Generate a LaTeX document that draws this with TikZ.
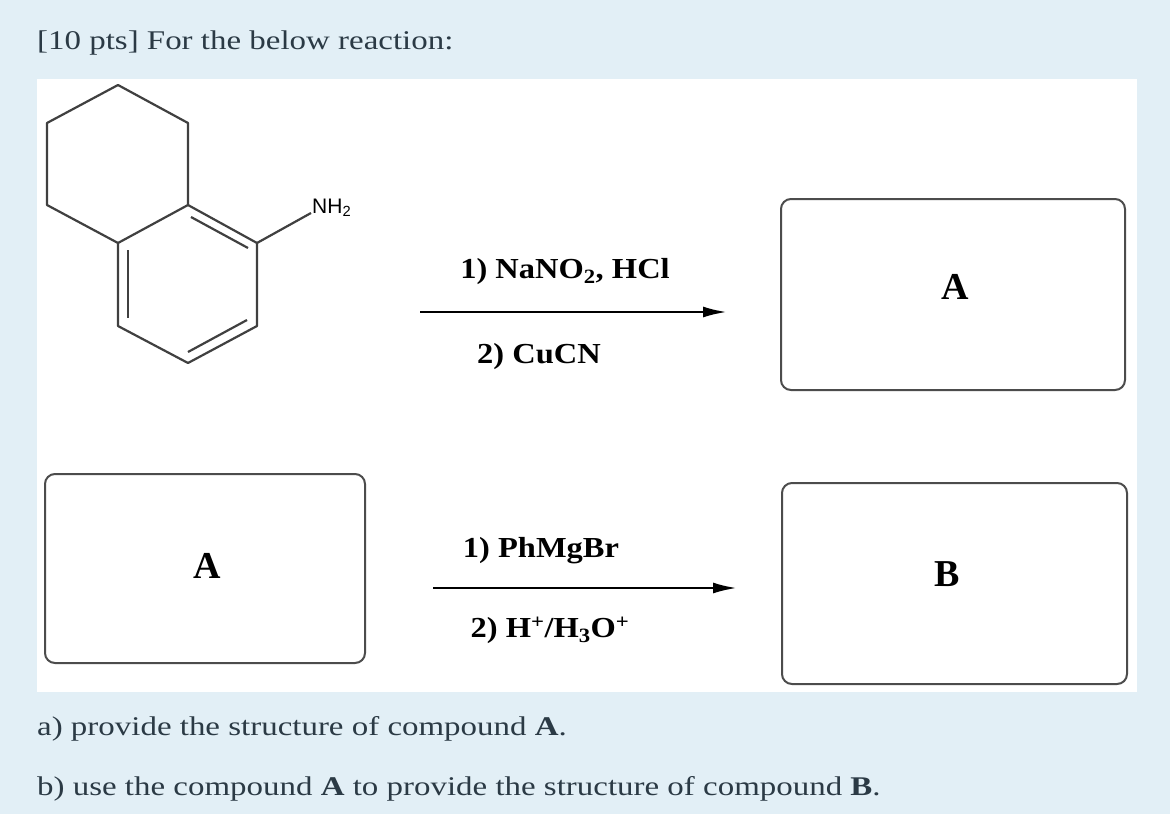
\documentclass[tikz,border=0pt]{standalone}
\usepackage{fontspec}
\setmainfont{Liberation Serif}
\newfontfamily\arialf{Liberation Sans}
\newfontfamily\wideserif[FakeStretch=1.22]{Liberation Serif}
\newfontfamily\reagserif[FakeStretch=1.12]{Liberation Serif}
\usetikzlibrary{arrows.meta}
\definecolor{bgblue}{HTML}{E2EFF6}
\definecolor{txt}{HTML}{2B3A45}
\tikzset{bond/.style={draw=black!75,line width=2.2pt},
 ansbox/.style={draw=black!70,line width=2pt,rounded corners=10pt},
 rxarrow/.style={line width=2.6pt,-{Latex[length=24pt,width=11pt]}},
 reag/.style={font=\reagserif\fontsize{29}{32}\selectfont\bfseries,inner sep=0pt},
 q/.style={font=\wideserif\fontsize{27}{30}\selectfont,text=txt,anchor=west,inner sep=0pt}}
\begin{document}
\begin{tikzpicture}[x=1pt,y=-1pt]
\fill[bgblue] (0,0) rectangle (1170,814);
\fill[white] (37,79) rectangle (1137,692);
\node[q] (hdr) at (37,43) {[10 pts] For the below reaction:};
% molecule
\coordinate (c1) at (118,85); \coordinate (c2) at (188,123);
\coordinate (c3) at (188,205); \coordinate (c4) at (118,243);
\coordinate (c5) at (47,205); \coordinate (c6) at (47,123);
\coordinate (c7) at (257,243); \coordinate (c8) at (257,326);
\coordinate (c9) at (188,363); \coordinate (c10) at (118,326);
\draw[bond,line join=round] (c3)--(c2)--(c1)--(c6)--(c5)--(c4)--(c3)--(c7)--(c8)--(c9)--(c10)--(c4);
\draw[bond] (191,217)--(248,248);
\draw[bond] (128,250)--(128,318);
\draw[bond] (188,352)--(247,320);
\node[font=\arialf\fontsize{21}{23}\selectfont,anchor=west,inner sep=1pt] (nh2) at (311,208) {NH\textsubscript{2}};
\draw[bond] (c7)--(nh2.west|-0,213);
% reaction 1
\coordinate (a1s) at (420,312); \coordinate (a1e) at (727,312);
\draw[rxarrow] (a1s)--(a1e);
\node[reag] (r1a) at (565,272) {1) NaNO\textsubscript{2}, HCl};
\node[reag] (r1b) at (539,357) {2) CuCN};
\node[ansbox,minimum width=344pt,minimum height=191pt] (boxA) at (953,294.5) {};
\node[font=\fontsize{38}{40}\selectfont\bfseries] (lA) at (955,287) {A};
% reaction 2
\node[ansbox,minimum width=320pt,minimum height=189pt] (boxA2) at (205,568.5) {};
\node[font=\fontsize{38}{40}\selectfont\bfseries] (lA2) at (207,566) {A};
\coordinate (a2s) at (433,588); \coordinate (a2e) at (737,588);
\draw[rxarrow] (a2s)--(a2e);
\node[reag] (r2a) at (541,551) {1) PhMgBr};
\node[reag] (r2b) at (550,630) {2) H\textsuperscript{+}/H\textsubscript{3}O\textsuperscript{+}};
\node[ansbox,minimum width=345pt,minimum height=201pt] (boxB) at (954.5,583.5) {};
\node[font=\fontsize{38}{40}\selectfont\bfseries] (lB) at (947,574) {B};
% questions
\node[q] (qa) at (37,729) {a) provide the structure of compound \textbf{A}.};
\node[q] (qb) at (37,789) {b) use the compound \textbf{A} to provide the structure of compound \textbf{B}.};
\end{tikzpicture}
\end{document}
